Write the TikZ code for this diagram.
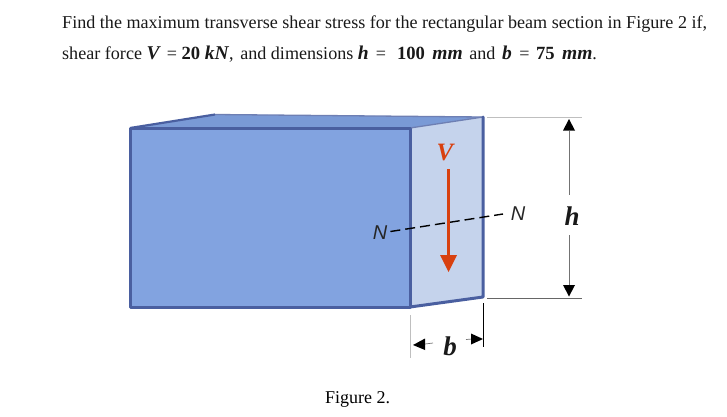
\documentclass[tikz,border=0pt]{standalone}
\usepackage{fontspec}
\setmainfont{Liberation Serif}
\setsansfont{Liberation Sans}
\definecolor{frontc}{HTML}{82A3E0}
\definecolor{topc}{HTML}{7A9AD6}
\definecolor{sidec}{HTML}{C5D3EC}
\definecolor{edgec}{HTML}{4A5FA0}
\definecolor{redc}{HTML}{D8400F}
\newcommand{\bi}[1]{{\fontsize{19.5}{20}\selectfont\textbf{\textit{#1}}}}
\newcommand{\bn}[1]{{\fontsize{18.6}{20}\selectfont\textbf{#1}}}
\tikzset{
  heavyedge/.style={draw=edgec,line width=3pt,line join=round,line cap=round},
  lightedge/.style={draw=edgec!80,line width=1.3pt},
  dimthin/.style={draw=black!55,line width=0.7pt},
  extline/.style={draw=black!25,line width=1pt},
  txt/.style={inner sep=0pt,anchor=base west,font=\fontsize{18.1}{20}\selectfont,text=black!90},
  nlab/.style={inner sep=0pt,font=\sffamily\itshape\fontsize{20}{22}\selectfont,text=black!85},
  bigl/.style={inner sep=0pt,font=\bfseries\itshape\fontsize{27}{28}\selectfont,text=black!90}
}
\begin{document}
\begin{tikzpicture}[x=1pt,y=-1pt]
\useasboundingbox (0,0) rectangle (727,416);
\node[txt] (line1) at (62,28) {Find the maximum transverse shear stress for the rectangular beam section in Figure 2 if,};
\node[txt] (line2) at (62,59) {shear force \bi{V}\hspace{1.5pt} = \bn{20} \bi{kN},\hspace{2pt} and dimensions \bi{h}\hspace{2.5pt} =\ \ \hspace{2pt}\bn{100}\hspace{3pt} \bi{mm}\hspace{2pt} and\hspace{2pt} \bi{b}\hspace{3pt} =\hspace{2pt} \bn{75}\hspace{3pt} \bi{mm}.};
% corners
\coordinate (fa) at (130,128);
\coordinate (fb) at (410,128);
\coordinate (fc) at (410,307);
\coordinate (fd) at (130,307);
\coordinate (ta) at (215,114.5);
\coordinate (tb) at (483,117);
\coordinate (sc) at (483,297);
\fill[topc] (fa) -- (ta) -- (tb) -- (fb) -- cycle;
\fill[sidec] (fb) -- (tb) -- (sc) -- (fc) -- cycle;
\fill[frontc] (fa) -- (fb) -- (fc) -- (fd) -- cycle;
\draw[lightedge] (ta) -- (tb);
\draw[lightedge] (fb) -- (tb);
\draw[draw=edgec,line width=2.2pt] (fa) -- (ta);
\draw[heavyedge] (tb) -- (sc) -- (fc);
\draw[heavyedge] (fa) -- (fb) -- (fc) -- (fd) -- cycle;
% labels
\node[inner sep=0pt,text=redc,font=\bfseries\itshape\fontsize{25}{26}\selectfont] (v) at (445,152) {V};
\node[nlab] (nl) at (380,232.5) {N};
\node[nlab] (nr) at (518,213.5) {N};
% neutral axis
\draw[black,line width=1.4pt,dash pattern=on 10pt off 5pt] (nl.east)++(3,-1) coordinate (n1) -- (503,214) coordinate (n2);
% shear arrow
\coordinate (v1) at (448.5,169);
\coordinate (v2) at (448.5,256);
\draw[redc,line width=3.4pt] (v1) -- (v2);
\fill[redc] (440,255) -- (457,255) -- (448.5,272) -- cycle;
% h dimension
\draw[extline] (487,117) -- (582,117);
\draw[black!60,line width=1pt] (487,298) -- (582,298);
\node[bigl] (h) at (572,216) {h};
\draw[dimthin] (569,131) -- (569,195);
\draw[dimthin] (569,235) -- (569,285);
\fill (563,130.5) -- (575,130.5) -- (569,119) -- cycle;
\fill (563,285) -- (575,285) -- (569,296.5) -- cycle;
% b dimension
\draw[extline] (410,315) -- (410,358);
\draw[black,line width=0.7pt] (483,303) -- (483,347);
\node[bigl] (b) at (450,346) {b};
\draw[dimthin] (425,344) -- (433,343);
\draw[dimthin] (466,339.5) -- (472,339);
\fill (425,338.5) -- (425,350) -- (413,345) -- cycle;
\fill (471,333.5) -- (471,344.5) -- (483,339) -- cycle;
\node[inner sep=0pt,anchor=base west,font=\fontsize{18}{20}\selectfont] (fig) at (325,403) {Figure 2.};
\end{tikzpicture}
\end{document}
